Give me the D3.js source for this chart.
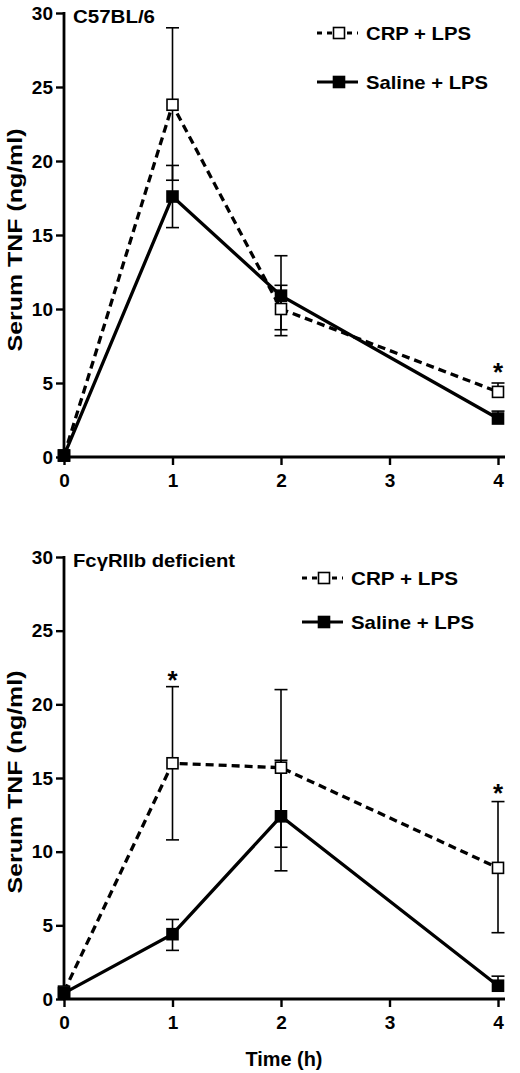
<!DOCTYPE html>
<html>
<head>
<meta charset="utf-8">
<script src="https://cdn.jsdelivr.net/npm/d3@7"></script>
<style>
  body { margin: 0; background: #fff; }
  text { font-family: "Liberation Sans", Arial, sans-serif; font-weight: bold; fill: #000; }
</style>
</head>
<body>
<div id="viz"></div>
<script>
// time points (h)
var times = [0, 1, 2, 4];
var xTicks = [0, 1, 2, 3, 4];
var yTicks = [0, 5, 10, 15, 20, 25, 30];
var seriesNames = ["CRP + LPS", "Saline + LPS"];

// C57BL/6 panel
var topCrp = [0.1, 23.8, 10.0, 4.4];
var topCrpHi = [0.1, 29.0, 11.6, 5.0];
var topCrpLo = [0.1, 18.7, 8.6, 4.4];
var topSaline = [0.1, 17.6, 10.9, 2.6];
var topSalineHi = [0.1, 19.7, 13.6, 3.1];
var topSalineLo = [0.1, 15.5, 8.2, 2.6];
var topStars = [[4, 6.1]];

// FcgRIIb deficient panel
var botCrp = [0.5, 16.0, 15.7, 8.9];
var botCrpHi = [0.5, 21.2, 21.0, 13.4];
var botCrpLo = [0.5, 10.8, 10.3, 4.5];
var botSaline = [0.4, 4.4, 12.4, 0.9];
var botSalineHi = [0.4, 5.4, 16.2, 1.55];
var botSalineLo = [0.4, 3.3, 8.7, 0.9];
var botStars = [[1, 22.0], [4, 14.3]];

var svg = d3.select("#viz")
    .append("svg")
    .attr("width", 520)
    .attr("height", 1073);

function drawPanel(opt) {
    var x = d3.scaleLinear().domain([0, 4]).range([64, 498]);
    var y = d3.scaleLinear().domain([0, 30]).range([opt.bottom, opt.top]);
    var g = svg.append("g");

    // ticks
    var yAxis = g.append("g")
        .attr("transform", "translate(" + x(0) + ",0)")
        .call(d3.axisLeft(y).tickValues(yTicks).tickSize(8).tickPadding(3).tickSizeOuter(0));
    var xAxis = g.append("g")
        .attr("transform", "translate(0," + y(0) + ")")
        .call(d3.axisBottom(x).tickValues(xTicks).tickFormat(d3.format("d"))
            .tickSize(8).tickPadding(9).tickSizeOuter(0));
    [yAxis, xAxis].forEach(function(a) {
        a.select(".domain").remove();
        a.selectAll(".tick line").attr("stroke", "#000").attr("stroke-width", 2.4);
        a.selectAll(".tick text").style("font-size", "19px").attr("fill", "#000");
    });

    // spines
    g.append("line")
        .attr("x1", x(0)).attr("x2", x(0))
        .attr("y1", y(30) - 1).attr("y2", y(0) + 1)
        .attr("stroke", "#000").attr("stroke-width", 2.8);
    g.append("line")
        .attr("x1", x(0) - 1).attr("x2", x(4) + 7)
        .attr("y1", y(0)).attr("y2", y(0))
        .attr("stroke", "#000").attr("stroke-width", 2.8);

    g.append("text")
        .text(opt.title)
        .attr("x", 73)
        .attr("y", opt.top + opt.titleDy)
        .attr("textLength", opt.titleW)
        .attr("lengthAdjust", "spacingAndGlyphs")
        .style("font-size", "18px");

    g.append("text")
        .text("Serum TNF (ng/ml)")
        .attr("transform", "translate(22," + ((opt.top + opt.bottom) / 2 + opt.labelShift) + ") rotate(-90)")
        .attr("text-anchor", "middle")
        .attr("textLength", 223)
        .attr("lengthAdjust", "spacingAndGlyphs")
        .style("font-size", "20px");

    var series = [
        {name: seriesNames[0], v: opt.crp, hi: opt.crpHi, lo: opt.crpLo, fill: "#fff", dash: "8,5"},
        {name: seriesNames[1], v: opt.saline, hi: opt.salineHi, lo: opt.salineLo, fill: "#000", dash: null}
    ];

    var line = d3.line()
        .x(function(d) { return x(d[0]); })
        .y(function(d) { return y(d[1]); });

    series.forEach(function(s) {
        g.append("path")
            .datum(times.map(function(t, i) { return [t, s.v[i]]; }))
            .attr("d", line)
            .attr("fill", "none")
            .attr("stroke", "#000")
            .attr("stroke-width", 3.3)
            .attr("stroke-dasharray", s.dash);
    });

    series.forEach(function(s) {
        times.forEach(function(t, i) {
            [s.hi[i], s.lo[i]].forEach(function(e) {
                if (e === s.v[i]) return;
                g.append("line")
                    .attr("x1", x(t)).attr("x2", x(t))
                    .attr("y1", y(s.v[i])).attr("y2", y(e))
                    .attr("stroke", "#000").attr("stroke-width", 1.6);
                g.append("line")
                    .attr("x1", x(t) - 6.5).attr("x2", x(t) + 6.5)
                    .attr("y1", y(e)).attr("y2", y(e))
                    .attr("stroke", "#000").attr("stroke-width", 1.6);
            });
        });
    });

    series.forEach(function(s) {
        g.selectAll(null)
            .data(times.map(function(t, i) { return [t, s.v[i]]; }))
            .enter().append("rect")
            .attr("x", function(d) { return x(d[0]) - 5.5; })
            .attr("y", function(d) { return y(d[1]) - 5.5; })
            .attr("width", 11).attr("height", 11)
            .attr("fill", s.fill)
            .attr("stroke", "#000")
            .attr("stroke-width", 1.6);
    });

    g.selectAll(null)
        .data(opt.stars).enter()
        .append("text")
        .text("*")
        .attr("x", function(d) { return x(d[0]); })
        .attr("y", function(d) { return y(d[1]) + 14; })
        .attr("text-anchor", "middle")
        .style("font-size", "26px");

    // legend
    series.forEach(function(s, i) {
        var ly = opt.legendY[i];
        g.append("line")
            .attr("x1", opt.legendX).attr("x2", opt.legendX + 41)
            .attr("y1", ly).attr("y2", ly)
            .attr("stroke", "#000").attr("stroke-width", 2.8)
            .attr("stroke-dasharray", s.dash ? "5,5" : null);
        g.append("rect")
            .attr("x", opt.legendX + 22 - 5.5).attr("y", ly - 5.5)
            .attr("width", 11).attr("height", 11)
            .attr("fill", s.fill).attr("stroke", "#000").attr("stroke-width", 1.6);
        g.append("text")
            .text(s.name)
            .attr("x", opt.legendX + 49)
            .attr("y", ly + 7)
            .attr("textLength", opt.legendW[i])
            .attr("lengthAdjust", "spacingAndGlyphs")
            .style("font-size", "19px");
    });

    return {x: x, y: y};
}

drawPanel({
    top: 13, bottom: 457, title: "C57BL/6", titleW: 82, titleDy: 10, labelShift: 5,
    crp: topCrp, crpHi: topCrpHi, crpLo: topCrpLo,
    saline: topSaline, salineHi: topSalineHi, salineLo: topSalineLo,
    stars: topStars, legendX: 317, legendY: [33, 82], legendW: [105, 122]
});

var bot = drawPanel({
    top: 557, bottom: 999, title: "Fc\u03b3RIIb deficient", titleW: 162, titleDy: 10, labelShift: 4,
    crp: botCrp, crpHi: botCrpHi, crpLo: botCrpLo,
    saline: botSaline, salineHi: botSalineHi, salineLo: botSalineLo,
    stars: botStars, legendX: 302, legendY: [578, 622], legendW: [107, 123]
});

svg.append("text")
    .text("Time (h)")
    .attr("x", bot.x(2) + 3)
    .attr("y", 1066)
    .attr("text-anchor", "middle")
    .attr("textLength", 77)
    .attr("lengthAdjust", "spacingAndGlyphs")
    .style("font-size", "20px");
</script>
</body>
</html>
